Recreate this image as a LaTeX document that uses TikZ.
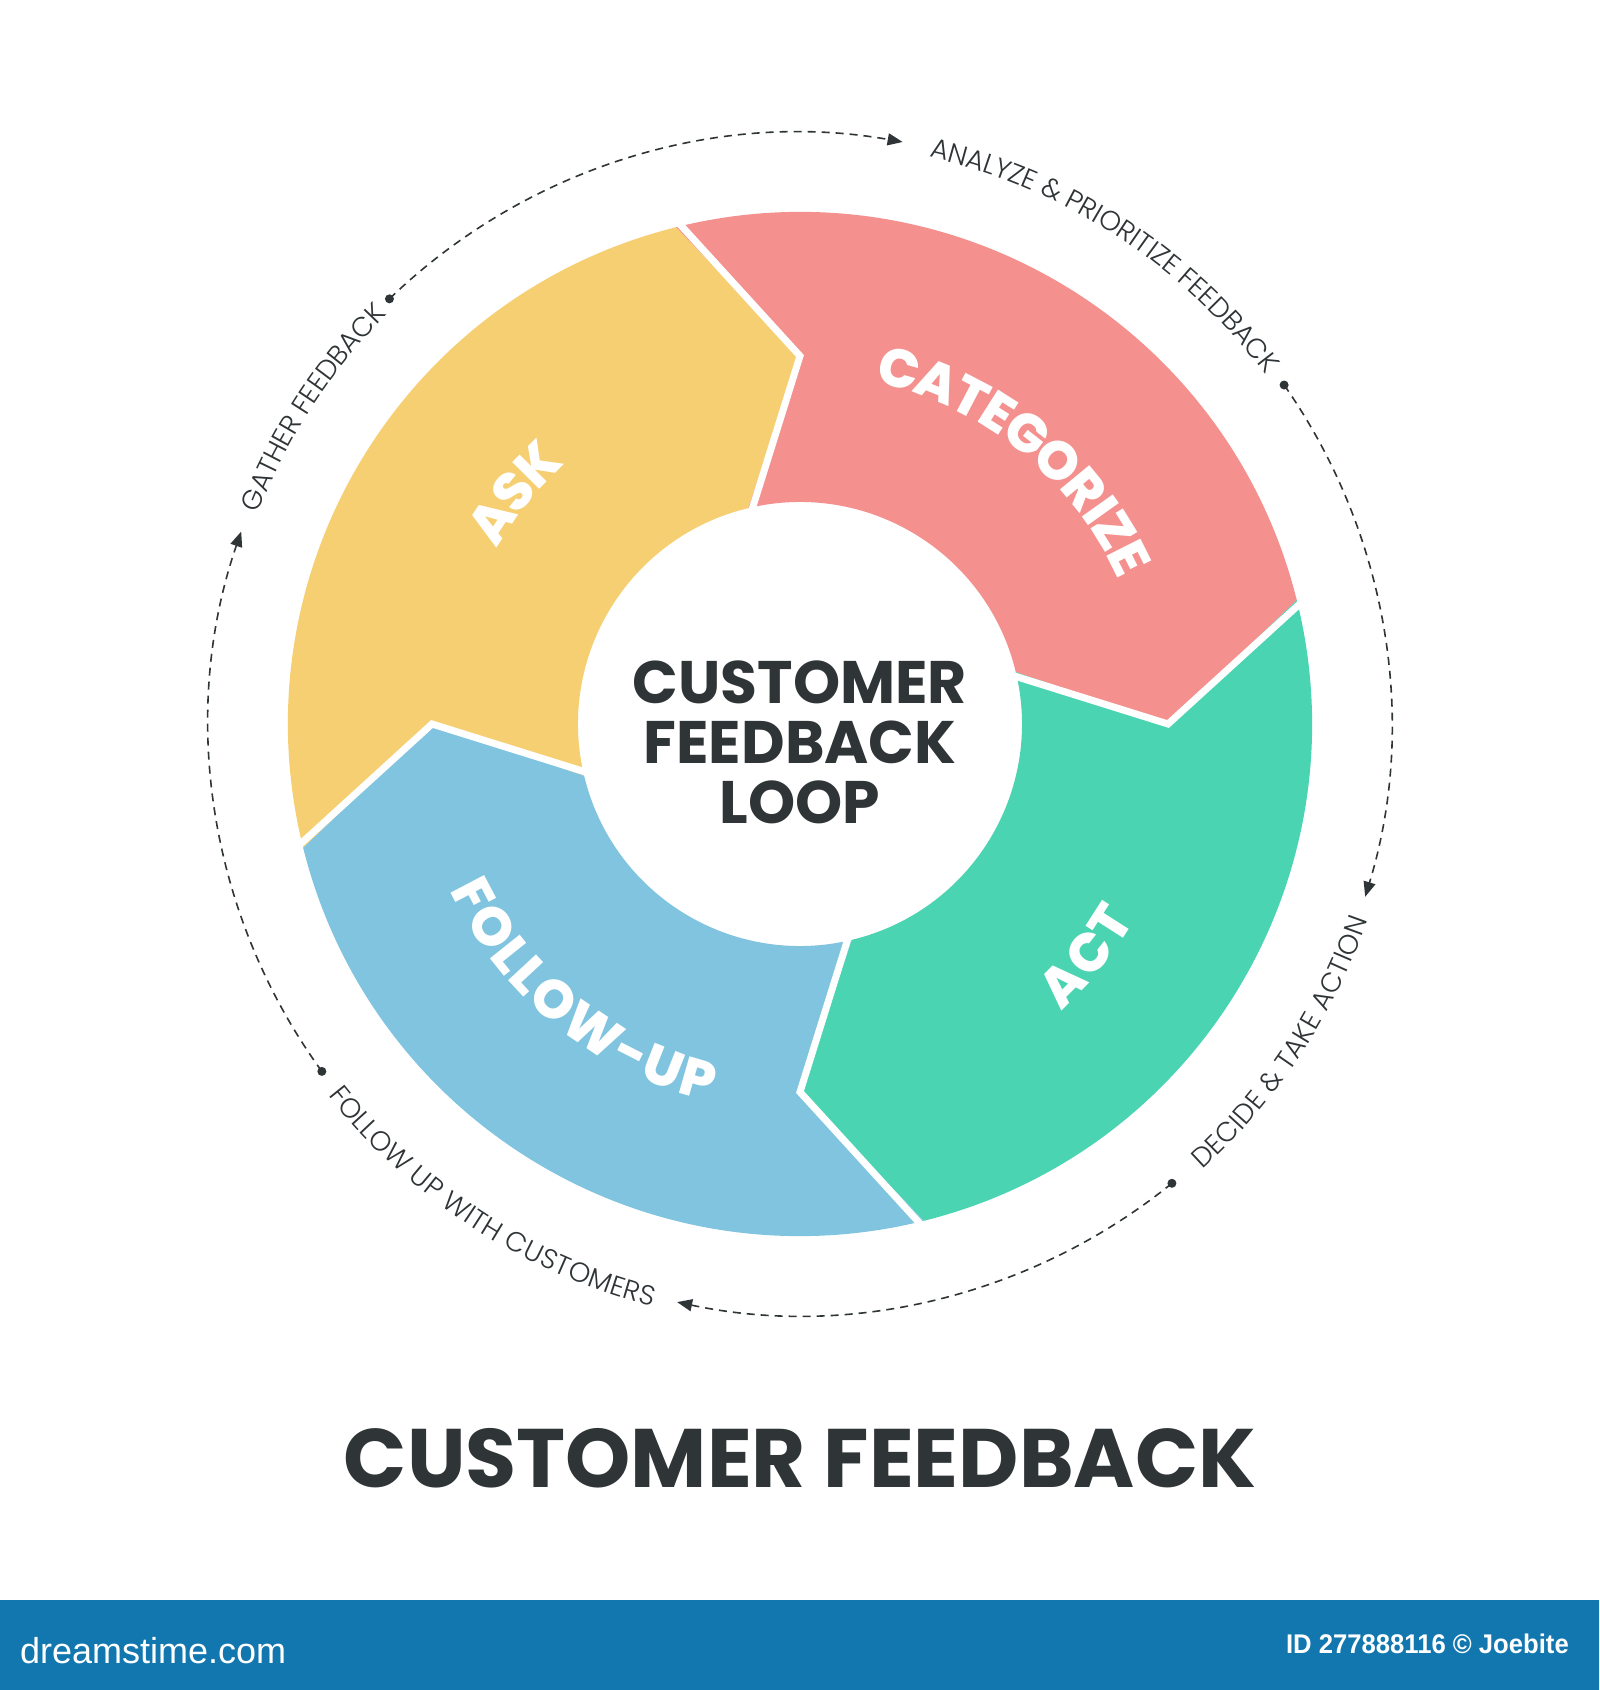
\documentclass[tikz,border=0pt]{standalone}
\usepackage{fontspec}
\setmainfont{Poppins}
\newfontfamily\popXB{Poppins ExtraBold}
\newfontfamily\popB{Poppins Bold}
\newfontfamily\popL{Poppins Light}
\newfontfamily\bannerfont{Liberation Sans}
\usetikzlibrary{decorations.text,arrows.meta}
\definecolor{cyel}{HTML}{F6CF72}
\definecolor{cpink}{HTML}{F4908E}
\definecolor{cgreen}{HTML}{4AD4B1}
\definecolor{cblue}{HTML}{80C4E0}
\definecolor{cdark}{HTML}{2F3437}
\definecolor{cbanner}{HTML}{1277AF}
\begin{document}
\begin{tikzpicture}[x=1pt,y=1pt,
  looparc/.style={cdark, line width=1.6pt, dash pattern=on 8pt off 6pt, -{Triangle[length=15pt,width=12pt]}},
  loopdot/.style={cdark},
  steplabel/.style={decorate, decoration={text along path, text align=center, raise=-9.5pt, text color=cdark,
     text={|\popL\fontsize{27.5}{27.5}\selectfont|#1}}},
  seglabel/.style={decorate, decoration={text along path, text align=center, raise=-19pt, text color=white,
     text={|\popXB\fontsize{54}{54}\selectfont|#1}}},
  gapline/.style={white, line width=7pt, line join=miter}
]
\useasboundingbox (-800,-966) rectangle (799,724);
\fill[white] (-800,-966) rectangle (799,724);

% ring segments: phi = tip angle of the clockwise end boundary
\foreach \p/\c in {90/cyel, 0/cpink, -90/cgreen, 180/cblue}{
  \fill[\c] ({\p+14}:512) arc[start angle={\p+14}, end angle={\p+104}, radius=512]
     -- ({\p+90}:368) -- ({\p+103.5}:222)
     arc[start angle={\p+103.5}, end angle={\p+13.5}, radius=222]
     -- (\p:368) -- cycle;
}
\foreach \p in {0,90,180,270}{
  \draw[gapline] ({\p+14}:522) -- (\p:368) -- ({\p+13.5}:214);
}

% segment labels
\path[seglabel={ASK}] (181:369) arc[start angle=181, end angle=101, radius=369];
\path[seglabel={CATEGORIZE}] (101:369) arc[start angle=101, end angle=1, radius=369];
\path[seglabel={ACT}] (-89:369) arc[start angle=-89, end angle=11, radius=369];
\path[seglabel={FOLLOW-UP}] (-179:369) arc[start angle=-179, end angle=-79, radius=369];

% centre text
\node[font=\popB\fontsize{60}{60}\selectfont, text=cdark, align=center, inner sep=0pt] (centre) at (0,-18) {CUSTOMER\\FEEDBACK\\LOOP};

% dashed loop arcs
\coordinate (d1) at (134:591); \coordinate (d2) at (35:591);
\coordinate (d3) at (-51:591); \coordinate (d4) at (-144:591);
\draw[looparc] (d1) arc[start angle=134, end angle=80, radius=591];
\draw[looparc] (d2) arc[start angle=35, end angle=-17, radius=591];
\draw[looparc] (d3) arc[start angle=-51, end angle=-102, radius=591];
\draw[looparc] (d4) arc[start angle=-144, end angle=-199, radius=591];
\foreach \d in {d1,d2,d3,d4} \fill[loopdot] (\d) circle[radius=4.5];

% step labels along the loop
\path[steplabel={ANALYZE {\&} PRIORITIZE FEEDBACK}] (97:591) arc[start angle=97, end angle=17, radius=591];
\path[steplabel={GATHER FEEDBACK}] (187:591) arc[start angle=187, end angle=107, radius=591];
\path[steplabel={DECIDE {\&} TAKE ACTION}] (-73.5:591) arc[start angle=-73.5, end angle=6.5, radius=591];
\path[steplabel={FOLLOW UP WITH CUSTOMERS}] (-163:591) arc[start angle=-163, end angle=-83, radius=591];

% title
\node[font=\popB\fontsize{83}{83}\selectfont, text=cdark, inner sep=0pt] (title) at (0,-734) {CUSTOMER FEEDBACK};

% banner
\fill[cbanner] (-800,-876) rectangle (799,-966);
\node[anchor=base west, text=white, inner sep=0pt, font=\bannerfont\fontsize{36}{36}\selectfont] (brand) at (-780,-939) {dreamstime.com};
\node[anchor=base east, text=white, inner sep=0pt, xscale=0.95, font=\bannerfont\bfseries\fontsize{27}{27}\selectfont] (credit) at (769,-929) {ID 277888116 © Joebite};
\end{tikzpicture}
\end{document}
